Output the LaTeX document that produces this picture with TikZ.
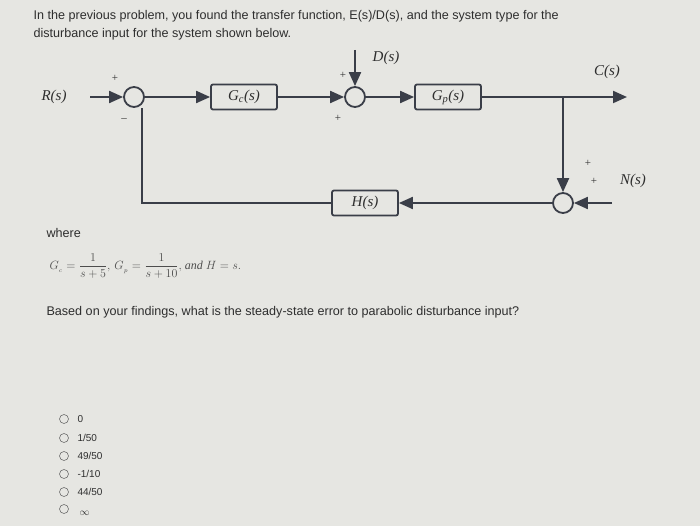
\documentclass[tikz,border=0pt]{standalone}
\usepackage{fontspec}
\setmainfont{Liberation Serif}
\setsansfont{Liberation Sans}
\usetikzlibrary{arrows.meta}
\definecolor{bg}{HTML}{E6E6E2}
\definecolor{ink}{HTML}{3A3E48}
\definecolor{txt}{HTML}{2E2E2E}
\begin{document}
\begin{tikzpicture}[x=1pt,y=-1pt,
  sumj/.style={circle,draw=ink,line width=1.8pt,minimum size=20pt,inner sep=0pt,fill=bg},
  blk/.style={draw=ink,line width=1.8pt,rounded corners=2pt,minimum width=66pt,minimum height=25pt,font=\itshape\fontsize{15}{17}\selectfont,text=txt},
  sig/.style={draw=ink,line width=2pt,-{Triangle[length=14pt,width=12pt]}},
  ln/.style={draw=ink,line width=2pt},
  lab/.style={font=\itshape\fontsize{15}{17}\selectfont,text=txt},
  pm/.style={font=\fontsize{11}{13}\selectfont,text=txt},
  qt/.style={font=\sffamily\fontsize{12.6}{15}\selectfont,text=txt,anchor=west},
  opt/.style={font=\sffamily\fontsize{10}{12}\selectfont,text=txt,anchor=west},
  rad/.style={circle,draw=txt!70,line width=0.6pt,minimum size=9pt,inner sep=0pt}]
\fill[bg] (0,0) rectangle (700,526);
\node[qt] (t1) at (30,16) {In the previous problem, you found the transfer function, E(s)/D(s), and the system type for the};
\node[qt] (t2) at (30,34) {disturbance input for the system shown below.};
% diagram
\node[sumj] (s1) at (134,97) {};
\node[blk] (gc) at (244,97) {G\textsubscript{c}(s)};
\node[sumj] (s2) at (355,97) {};
\node[blk] (gp) at (448,97) {G\textsubscript{p}(s)};
\node[sumj] (s3) at (563,203) {};
\node[blk] (h) at (365,203) {H(s)};
\node[lab] (r) at (54,97) {R(s)};
\node[lab] (c) at (607,72) {C(s)};
\node[lab] (d) at (386,58) {D(s)};
\node[lab] (n) at (633,181) {N(s)};
\coordinate (rin) at (90,97);
\coordinate (din) at (355,50);
\coordinate (nin) at (612,203);
\coordinate (cout) at (627,97);
\coordinate (br) at (563,97);
\coordinate (fb) at (142,203);
\draw[sig] (rin) -- (s1);
\draw[sig] (s1) -- (gc);
\draw[sig] (gc) -- (s2);
\draw[sig] (s2) -- (gp);
\draw[sig] (din) -- (s2);
\draw[sig] (gp) -- (cout);
\draw[sig] (br) -- (s3);
\draw[sig] (nin) -- (s3);
\draw[sig] (s3) -- (h);
\draw[ln] (h) -- (fb) -- (fb |- s1.south);
\node[pm] (p1) at (115,78) {+};
\node[pm] (m1) at (124,120) {--};
\node[pm] (p2) at (343,75) {+};
\node[pm] (p3) at (338,118) {+};
\node[pm] (p4) at (588,163) {+};
\node[pm] (p5) at (594,181) {+};
% text
\node[qt] (w) at (43,233) {where};
\node[anchor=west,text=txt!85,font=\fontsize{12}{14}\selectfont] (f) at (46,266) {$G_{_c}=\displaystyle\frac{1}{s+5},\,G_{_p}=\frac{1}{s+10},$ \textit{and} $H=s.$};
\node[qt] (b) at (43,312) {Based on your findings, what is the steady-state error to parabolic disturbance input?};
\node[rad] (o1) at (64,419) {};
\node[rad] (o2) at (64,438) {};
\node[rad] (o3) at (64,456) {};
\node[rad] (o4) at (64,474) {};
\node[rad] (o5) at (64,492) {};
\node[rad] (o6) at (64,509) {};
\node[opt] (a1) at (74,419) {0};
\node[opt] (a2) at (74,438) {1/50};
\node[opt] (a3) at (74,456) {49/50};
\node[opt] (a4) at (74,474) {-1/10};
\node[opt] (a5) at (74,492) {44/50};
\node[opt] (a6) at (76,513) {$\infty$};
\end{tikzpicture}
\end{document}
